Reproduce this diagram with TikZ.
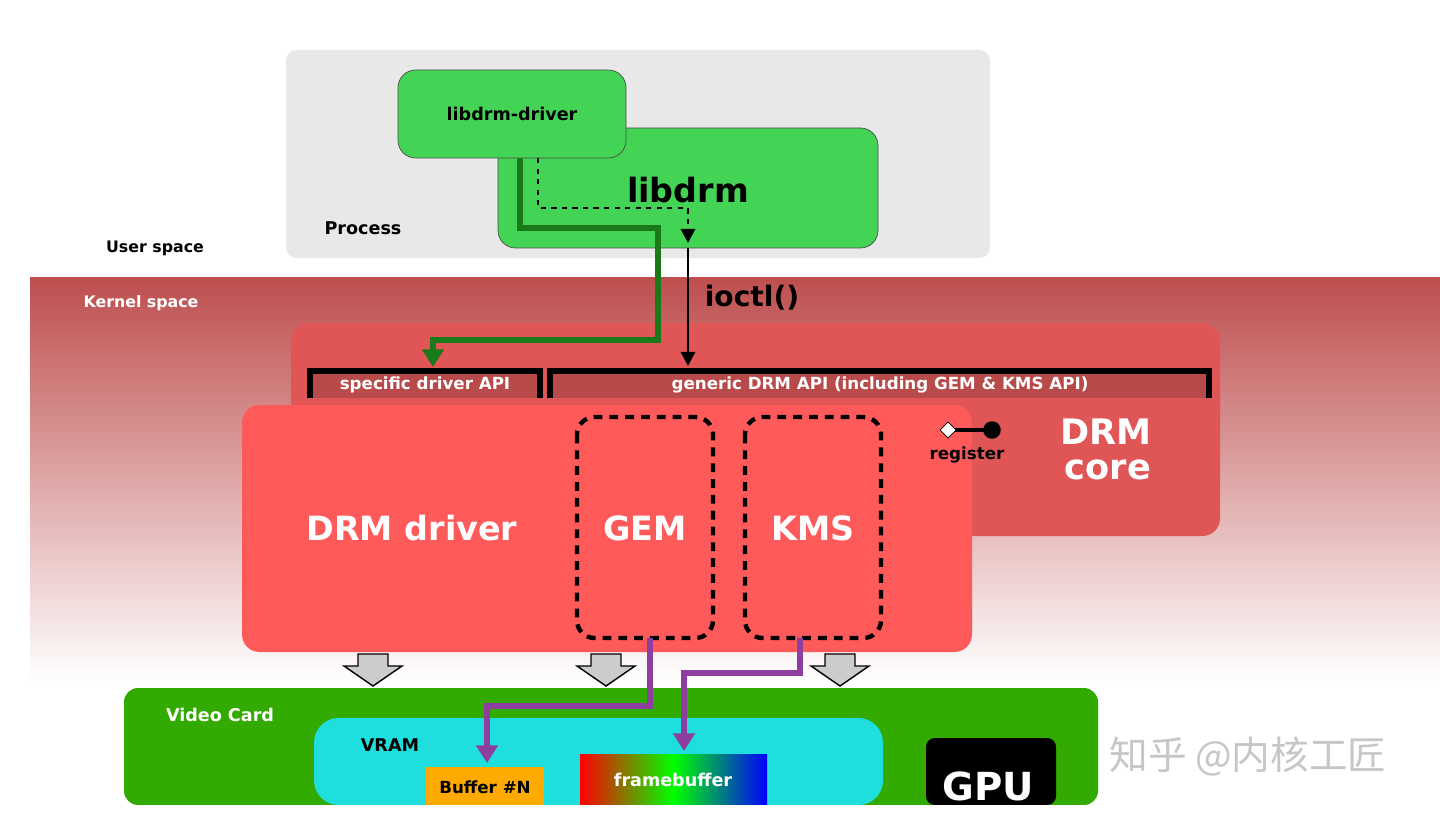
\documentclass[tikz,border=0pt]{standalone}
\usepackage{fontspec}
\setmainfont{DejaVu Sans}
\newfontfamily\cjk{Noto Sans CJK SC}
\usetikzlibrary{arrows.meta}
\definecolor{procgray}{HTML}{E8E8E8}
\definecolor{libgreen}{HTML}{44D455}
\definecolor{kerntop}{HTML}{BE4E4E}
\definecolor{corered}{HTML}{E05555}
\definecolor{drvred}{HTML}{FF5A5A}
\definecolor{apired}{HTML}{B84A4A}
\definecolor{cardgreen}{HTML}{33AA00}
\definecolor{vramcyan}{HTML}{1EDEDE}
\definecolor{bufor}{HTML}{FFAA00}
\definecolor{linkgreen}{HTML}{1A7A1A}
\definecolor{linkpurple}{HTML}{8E3E9E}
\tikzset{
  box/.style={rounded corners=10pt},
  apibar/.style={text=white, font=\bfseries\fontsize{9.5}{10}\selectfont, inner sep=0pt},
  bigw/.style={text=white, font=\bfseries\fontsize{19}{19}\selectfont},
  blockarrow/.style={draw=black, fill=gray!40, line width=0.8pt},
  link/.style={line width=2.5pt, -{Triangle[length=8pt,width=9pt]}}
}
\begin{document}
\begin{tikzpicture}[x=0.02cm, y=-0.02cm]
\useasboundingbox (0,0) rectangle (1440,814);

% User space
\fill[procgray, rounded corners=6pt] (286,50) rectangle (990,258);
\node[font=\bfseries] (proc) at (363,228) {Process};
\node[font=\bfseries\small] (user) at (155,248) {User space};
\draw[box, fill=libgreen, draw=black!70] (498,128) rectangle (878,248);
\node[font=\bfseries\fontsize{19}{19}\selectfont] (libdrm) at (688,190) {libdrm};
\draw[box, fill=libgreen, draw=black!70] (398,70) rectangle (626,158);
\node[font=\bfseries] (libdrv) at (512,114) {libdrm-driver};

% Kernel space band
\shade[top color=kerntop, bottom color=white] (30,277) rectangle (1440,682);
\node[font=\bfseries\small, text=white] (kern) at (141,303) {Kernel space};

% DRM core
\fill[corered, box] (291,323) rectangle (1220,536);
\fill[apired] (309,370) rectangle (541,398);
\draw[line width=3pt] (310,398) -- (310,371) -- (540,371) -- (540,398);
\node[apibar] (specapi) at (425,385) {specific driver API};
\fill[apired] (549,370) rectangle (1210,398);
\draw[line width=3pt] (550,398) -- (550,371) -- (1209,371) -- (1209,398);
\node[apibar] (genapi) at (880,385) {generic DRM API (including GEM \& KMS API)};
\node[bigw, inner sep=0pt, font=\bfseries\fontsize{20}{20}\selectfont] (core1) at (1106,432) {DRM};
\node[bigw, inner sep=0pt, font=\bfseries\fontsize{20}{20}\selectfont] (core2) at (1108,470) {core};

% DRM driver
\fill[drvred, box] (242,405) rectangle (972,652);
\node[bigw] (drv) at (412,528) {DRM driver};
\draw[box, line width=2.5pt, dash pattern=on 5pt off 4pt] (577,417) rectangle (713,638);
\node[bigw] (gem) at (645,528) {GEM};
\draw[box, line width=2.5pt, dash pattern=on 5pt off 4pt] (745,417) rectangle (881,638);
\node[bigw] (kms) at (813,528) {KMS};

% register
\coordinate (regA) at (948,430);
\coordinate (regB) at (992,430);
\draw[line width=2.5pt] (regA) -- (regB);
\fill (regB) circle (5pt);
\draw[fill=white] (regA) ++(-8,0) -- ++(8,-8) -- ++(8,8) -- ++(-8,8) -- cycle;
\node[font=\bfseries\fontsize{9.5}{10}\selectfont] (reg) at (967,455) {register};

% ioctl paths
\node[font=\bfseries\fontsize{16}{16}\selectfont] (ioctl) at (752,298) {ioctl()};
\draw[line width=1.6pt, -{Triangle[length=8pt,width=8pt]}] (688,248) -- (688,366);
\draw[line width=1.6pt, dashed, -{Triangle[length=8pt,width=8pt]}] (538,158) -- (538,208) -- (688,208) -- (688,243);
\draw[linkgreen, line width=3pt, -{Triangle[length=10pt,width=12pt]}] (520,158) -- (520,228) -- (658,228) -- (658,340) -- (433,340) -- (433,367);

% block arrows
\foreach \x in {373,606,840}
  \draw[blockarrow] (\x-15,654) -- (\x+15,654) -- (\x+15,666) -- (\x+29,666)
     -- (\x,686) -- (\x-29,666) -- (\x-15,666) -- cycle;

% Video card
\fill[cardgreen, rounded corners=8pt] (124,688) rectangle (1098,805);
\node[font=\bfseries, text=white] (card) at (220,715) {Video Card};
\fill[vramcyan, rounded corners=14pt] (314,718) rectangle (883,805);
\node[font=\bfseries] (vram) at (390,745) {VRAM};
\fill[bufor] (426,767) rectangle (544,805);
\node[font=\bfseries\fontsize{9.5}{10}\selectfont] (buf) at (485,787) {Buffer \#N};
\shade[left color=red, right color=blue, middle color=green] (580,754) rectangle (767,805);
\node[font=\bfseries, text=white] (fb) at (673,780) {framebuffer};
\fill[black, rounded corners=5pt] (926,738) rectangle (1056,805);
\node[font=\bfseries\fontsize{22}{22}\selectfont, text=white] (gpu) at (988,786) {GPU};
\fill[white] (0,805) rectangle (1440,814);

% memory links
\draw[linkpurple, line width=3pt, -{Triangle[length=10pt,width=12pt]}] (650,638) -- (650,706) -- (487,706) -- (487,763);
\draw[linkpurple, line width=3pt, -{Triangle[length=10pt,width=12pt]}] (800,638) -- (800,673) -- (684,673) -- (684,751);

% watermark
\node[text=gray!45, font=\cjk\fontsize{22}{22}\selectfont] (wm) at (1248,757) {知乎 @内核工匠};
\end{tikzpicture}
\end{document}
